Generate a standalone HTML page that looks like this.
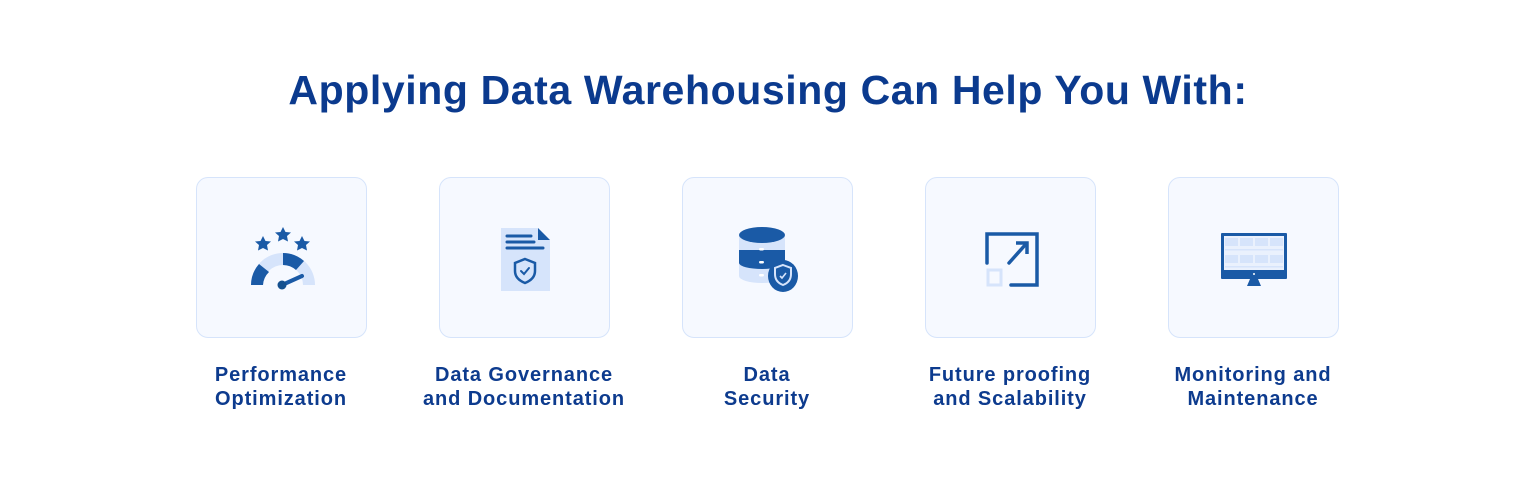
<!DOCTYPE html>
<html><head><meta charset="utf-8"><style>
body{margin:0;width:1536px;height:480px;background:#fff;position:relative;font-family:"Liberation Sans",sans-serif;overflow:hidden}
h1{position:absolute;top:67px;left:0;width:1536px;text-align:center;margin:0;font-size:41px;font-weight:bold;color:#0b3a8e;letter-spacing:0.6px}
.card{position:absolute;top:177px;width:169px;height:159px;border:1.5px solid #d6e4fb;border-radius:12px;background:#f6f9ff}
.card svg{position:absolute;left:0;top:0}
.lab{position:absolute;top:363px;width:260px;text-align:center;font-size:20px;line-height:24px;font-weight:bold;color:#0d3b8e;letter-spacing:0.9px}
</style></head><body>
<h1>Applying Data Warehousing Can Help You With:</h1>

<div class="card" style="left:196px"><svg width="171" height="161" viewBox="0 0 171 161">
<g fill="#1a5aa6">
<polygon points="66,58 68.5,63 74,63.5 70,67 71,72.5 66,70 61,72.5 62,67 58,63.5 63.5,63"/>
<polygon points="86,49 88.5,54 94,54.5 90,58 91,63.5 86,61 81,63.5 82,58 78,54.5 83.5,54"/>
<polygon points="105,58 107.5,63 113,63.5 109,67 110,72.5 105,70 100,72.5 101,67 97,63.5 102.5,63"/>
</g>
<path d="M54,107 A32,32 0 0 1 118,107 L106,107 A20,20 0 0 0 66,107 Z" fill="#d6e4fb"/>
<path d="M54,107 A32,32 0 0 1 62,86 L72,94 A20,20 0 0 0 66,107 Z" fill="#1a5aa6"/>
<path d="M86,75 A32,32 0 0 1 107,83 L99,92 A20,20 0 0 0 86,87 Z" fill="#1a5aa6"/>
<line x1="85" y1="107" x2="105" y2="98" stroke="#1a5aa6" stroke-width="4" stroke-linecap="round"/>
<circle cx="85" cy="107" r="4.5" fill="#14508f"/>
</svg></div>

<div class="card" style="left:439px"><svg width="171" height="161" viewBox="0 0 171 161">
<path d="M61,50 L98,50 L110,62 L110,113 L61,113 Z" fill="#d6e4fb"/>
<path d="M98,50 L110,62 L98,62 Z" fill="#1a5aa6"/>
<g stroke="#1a5aa6" stroke-width="3" stroke-linecap="round"><line x1="67" y1="58" x2="91" y2="58"/><line x1="67" y1="64" x2="94" y2="64"/><line x1="67" y1="70" x2="103" y2="70"/></g>
<path d="M85,81 L95,85 L95,93 Q95,101 85,105 Q75,101 75,93 L75,85 Z" fill="none" stroke="#1a5aa6" stroke-width="2.5"/>
<path d="M81,93 L84,96 L89,90" fill="none" stroke="#1a5aa6" stroke-width="2" stroke-linecap="round"/>
</svg></div>

<div class="card" style="left:682px"><svg width="171" height="161" viewBox="0 0 171 161">
<path d="M56,57 L102,57 L102,98 A23,7 0 0 1 56,98 Z" fill="#d6e4fb"/>
<path d="M56,72 A23,6 0 0 0 102,72 L102,83 A23,6 0 0 1 56,83 Z" fill="#1a5aa6"/>
<path d="M56,72 L102,72 L102,85 A23,6 0 0 1 56,85 Z" fill="#1a5aa6"/>
<ellipse cx="79" cy="57" rx="23" ry="8" fill="#1a5aa6"/>
<g fill="#fff"><rect x="76" y="70" width="5" height="2.5" rx="1.2"/><rect x="76" y="83" width="5" height="2.5" rx="1.2"/><rect x="76" y="96" width="5" height="2.5" rx="1.2"/></g>
<ellipse cx="100" cy="98" rx="15" ry="16" fill="#1a5aa6"/>
<path d="M100,87 L108,90 L108,96 Q108,104 100,107 Q92,104 92,96 L92,90 Z" fill="none" stroke="#d6e4fb" stroke-width="2"/>
<path d="M97,98 L99,100 L103,95" fill="none" stroke="#d6e4fb" stroke-width="1.6"/>
</svg></div>

<div class="card" style="left:925px"><svg width="171" height="161" viewBox="0 0 171 161">
<path d="M61,85 L61,56 L111,56 L111,107 L85,107" fill="none" stroke="#1a5aa6" stroke-width="3.5" stroke-linecap="round"/>
<rect x="62" y="92" width="13" height="15" fill="none" stroke="#d6e4fb" stroke-width="3"/>
<line x1="83" y1="85" x2="100" y2="66" stroke="#1a5aa6" stroke-width="3.5" stroke-linecap="round"/>
<path d="M90,65 L101,65 L101,76" fill="none" stroke="#1a5aa6" stroke-width="3.5"/>
</svg></div>

<div class="card" style="left:1168px"><svg width="171" height="161" viewBox="0 0 171 161">
<rect x="52" y="55" width="66" height="46" rx="1" fill="#1a5aa6"/>
<rect x="55" y="58" width="60" height="34" fill="#eaf1fd"/>
<g fill="#d6e4fb"><rect x="56" y="60" width="13" height="8"/><rect x="71" y="60" width="13" height="8"/><rect x="86" y="60" width="13" height="8"/><rect x="101" y="60" width="13" height="8"/>
<rect x="56" y="77" width="13" height="8"/><rect x="71" y="77" width="13" height="8"/><rect x="86" y="77" width="13" height="8"/><rect x="101" y="77" width="13" height="8"/>
<rect x="56" y="71" width="58" height="1.5"/><rect x="56" y="88" width="58" height="1.5"/></g>
<path d="M81,101 L89,101 L92,108 L78,108 Z" fill="#1a5aa6"/>
<circle cx="85" cy="96" r="1" fill="#fff"/>
</svg></div>

<div class="lab" style="left:151px">Performance<br>Optimization</div>
<div class="lab" style="left:394px">Data Governance<br>and Documentation</div>
<div class="lab" style="left:637px">Data<br>Security</div>
<div class="lab" style="left:880px">Future proofing<br>and Scalability</div>
<div class="lab" style="left:1123px">Monitoring and<br>Maintenance</div>
</body></html>
